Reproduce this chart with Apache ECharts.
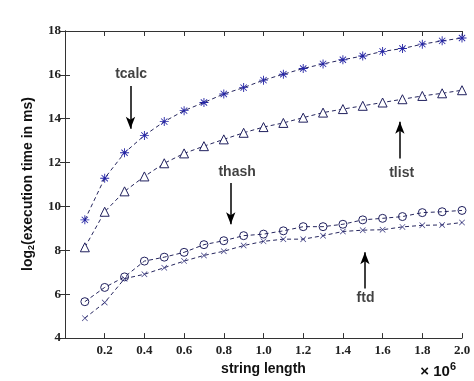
<!DOCTYPE html>
<html><head><meta charset="utf-8">
<script src="https://cdn.jsdelivr.net/npm/echarts@6/dist/echarts.min.js"></script>
<style>html,body{margin:0;padding:0;background:#fff}#c{width:474px;height:381px}</style>
</head><body><div id="c"></div>
<script>
const xs = [0.1,0.2,0.3,0.4,0.5,0.6,0.7,0.8,0.9,1.0,1.1,1.2,1.3,1.4,1.5,1.6,1.7,1.8,1.9,2.0];
const tcalc = [9.39,11.29,12.45,13.24,13.87,14.37,14.74,15.13,15.42,15.76,16.03,16.29,16.50,16.69,16.86,17.07,17.20,17.40,17.55,17.68];
const tlist = [8.14,9.76,10.69,11.37,11.97,12.42,12.75,13.06,13.36,13.62,13.81,14.05,14.28,14.44,14.59,14.74,14.89,15.04,15.16,15.30];
const thash = [5.66,6.31,6.79,7.51,7.69,7.91,8.26,8.44,8.67,8.74,8.89,9.08,9.08,9.19,9.39,9.46,9.54,9.72,9.76,9.82];
const ftd = [4.91,5.62,6.71,6.91,7.21,7.51,7.77,7.96,8.22,8.41,8.51,8.51,8.67,8.86,8.92,8.94,9.07,9.14,9.16,9.27];
const yTicks = [4,6,8,10,12,14,16,18];
const xTicks = [0.2,0.4,0.6,0.8,1.0,1.2,1.4,1.6,1.8,2.0];
// annotations: [x, y, text] and arrows [x, yFrom, yTo]
const annotText = [[0.333,16.02,'tcalc'],[0.867,11.56,'thash'],[1.696,11.52,'tlist'],[1.514,5.81,'ftd']];
const annotArrows = [[0.330,15.49,13.54],[0.835,11.07,9.19],[1.687,12.19,13.86],[1.511,6.26,7.91]];

const pair = arr => xs.map((x,i)=>[x,arr[i]]);
const lineCol = '#26265e';
const star = 'path://M-0.6,-6L0.6,-6L0.6,6L-0.6,6Z M-6,-0.6L6,-0.6L6,0.6L-6,0.6Z M-3.8,-4.6L4.6,3.8L3.8,4.6L-4.6,-3.8Z M3.8,-4.6L4.6,-3.8L-3.8,4.6L-4.6,3.8Z';
const cross = 'path://M-4.2,-5L5,4.2L4.2,5L-5,-4.2Z M4.2,-5L5,-4.2L-4.2,5L-5,4.2Z';
const tickFont = {fontFamily:'Liberation Serif', fontWeight:'bold', fontSize:13, color:'#222'};
const axLine = {show:true, lineStyle:{color:'#333', width:1}};
function mk(name, arr, symbol, size, item){
  return {name, type:'line', data:pair(arr), symbol, symbolSize:size, showSymbol:true,
    lineStyle:{color:lineCol, width:1, type:[4,3]}, itemStyle:item, z:3, animation:false};
}
const chart = echarts.init(document.getElementById('c'), null, {renderer:'canvas'});
chart.setOption({
  animation:false,
  grid:{left:65, right:12, top:31, bottom:39},
  xAxis:[{type:'value', min:0, max:2.0, interval:0.2, position:'bottom',
    axisLine:axLine, axisTick:{inside:true, length:5, lineStyle:{color:'#333'}},
    splitLine:{show:false},
    axisLabel:Object.assign({margin:6, formatter:v=> (v<0.01?'':v.toFixed(1))}, tickFont),
    name:'string length', nameLocation:'middle', nameGap:22,
    nameTextStyle:{fontFamily:'Liberation Sans', fontWeight:'bold', fontSize:14, color:'#111'}},
   {type:'value', min:0, max:2.0, interval:0.2, position:'top',
    axisLine:axLine, axisTick:{inside:true, length:5, lineStyle:{color:'#333'}},
    axisLabel:{show:false}, splitLine:{show:false}}],
  yAxis:[{type:'value', min:4, max:18, interval:2, position:'left',
    axisLine:axLine, axisTick:{inside:true, length:5, lineStyle:{color:'#333'}},
    splitLine:{show:false},
    axisLabel:Object.assign({margin:4}, tickFont)},
   {type:'value', min:4, max:18, interval:2, position:'right',
    axisLine:axLine, axisTick:{inside:true, length:5, lineStyle:{color:'#333'}},
    axisLabel:{show:false}, splitLine:{show:false}}],
  graphic:[
   {type:'text', right:18, bottom:2,
    style:{text:'× 10{sup|6}', fill:'#111', font:'bold 15px Liberation Sans',
      rich:{sup:{font:'bold 11px Liberation Sans', fill:'#111', padding:[0,0,10,0]}}}},
   {type:'text', x:28, y:184, rotation:Math.PI/2,
    style:{text:'log{sub|2}(execution time in ms)', x:0, y:0, align:'center', verticalAlign:'middle',
      fill:'#111', font:'bold 14px Liberation Sans',
      rich:{sub:{font:'bold 9px Liberation Sans', fill:'#111', padding:[7,0,0,0]}}}}
  ],
  series:[
    mk('tcalc', tcalc, star, 9, {color:'#2525a5'}),
    mk('tlist', tlist, 'triangle', 9, {color:'#fff', borderColor:'#20205e', borderWidth:1}),
    mk('thash', thash, 'circle', 8, {color:'rgba(255,255,255,0)', borderColor:'#20205e', borderWidth:1}),
    mk('ftd', ftd, cross, 6, {color:'#3a3a80'}),
    {type:'scatter', data:annotText, symbolSize:1, itemStyle:{color:'rgba(0,0,0,0)'},
     label:{show:true, position:'inside', formatter:p=>p.value[2],
       fontFamily:'Liberation Sans', fontWeight:'bold', fontSize:14, color:'#111'},
     silent:true, z:5,
     markLine:{silent:true, symbol:['none','arrow'], symbolSize:[7,12], label:{show:false},
       lineStyle:{color:'#000', width:1.5, type:'solid'},
       data:annotArrows.map(a=>[{coord:[a[0],a[1]]},{coord:[a[0],a[2]]}])}}
  ]
});
</script></body></html>
